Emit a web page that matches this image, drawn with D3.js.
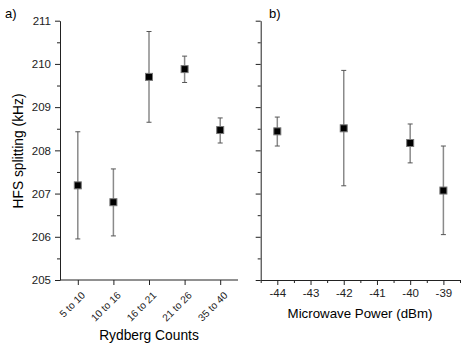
<!DOCTYPE html>
<html>
<head>
<meta charset="utf-8">
<script src="https://cdn.jsdelivr.net/npm/d3@7"></script>
<style>
  body { margin: 0; background: #fff; }
  svg { font-family: "Liberation Sans", Arial, sans-serif; }
</style>
</head>
<body>
<svg width="474" height="362"></svg>
<script>
const svg = d3.select("svg");

// panel a) data
const rydbergCats = ["5 to 10", "10 to 16", "16 to 21", "21 to 26", "35 to 40"];
const rydbergVals = [207.19, 206.80, 209.70, 209.88, 208.47];
const rydbergHi = [208.43, 207.57, 210.75, 210.18, 208.75];
const rydbergLo = [205.95, 206.02, 208.65, 209.57, 208.17];

// panel b) data
const powerVals = [-44, -42, -40, -39];
const powerHfs = [208.44, 208.51, 208.17, 207.07];
const powerHi = [208.77, 209.85, 208.61, 208.10];
const powerLo = [208.10, 207.18, 207.71, 206.05];

const yTicks = [205, 206, 207, 208, 209, 210, 211];
const xTicksB = [-44, -43, -42, -41, -40, -39];

const plotTop = 20.7, plotBottom = 280;
const y = d3.scaleLinear().domain([205, 211]).range([plotBottom, plotTop]);

const errColor = "#8a8a8a";
const fmt = d => String(d);  // plain hyphen minus, no decimals

// ---- panel a
const xa = d3.scalePoint().domain(rydbergCats).range([60, 238]).padding(0.5);
const ga = svg.append("g");

const yAxisA = d3.axisLeft(y).tickValues(yTicks).tickSize(5).tickSizeOuter(0).tickPadding(4).tickFormat(fmt);
ga.append("g").attr("transform", "translate(60,0)").call(yAxisA)
  .call(g => g.selectAll("text").attr("font-size", 11.5).attr("fill", "#222"));
ga.append("g").attr("transform", "translate(60,0)")
  .call(d3.axisLeft(y).tickValues(d3.range(205.5, 211, 1)).tickSize(3).tickFormat(""))
  .call(g => g.select(".domain").remove());

const xAxisA = d3.axisBottom(xa).tickSize(5).tickSizeOuter(0);
ga.append("g").attr("transform", `translate(0,${plotBottom})`).call(xAxisA)
  .call(g => g.select(".domain").attr("d", "M60,0H238"))
  .call(g => g.selectAll("text")
    .attr("font-size", 10.2).attr("fill", "#222")
    .attr("text-anchor", "end")
    .attr("y", 0).attr("dy", 0)
    .attr("transform", "translate(7.5,16) rotate(-45)"));

const ptsA = rydbergCats.map((c, i) => ({x: xa(c), v: rydbergVals[i], hi: rydbergHi[i], lo: rydbergLo[i]}));

function drawPoints(g, pts) {
  const e = g.selectAll("g.err").data(pts).join("g").attr("class", "err");
  e.append("line").attr("x1", d => d.x).attr("x2", d => d.x)
    .attr("y1", d => y(d.hi)).attr("y2", d => y(d.lo))
    .attr("stroke", errColor).attr("stroke-width", 1.5);
  e.append("line").attr("x1", d => d.x - 2.5).attr("x2", d => d.x + 2.5)
    .attr("y1", d => y(d.hi)).attr("y2", d => y(d.hi))
    .attr("stroke", "#555").attr("stroke-width", 1);
  e.append("line").attr("x1", d => d.x - 2.5).attr("x2", d => d.x + 2.5)
    .attr("y1", d => y(d.lo)).attr("y2", d => y(d.lo))
    .attr("stroke", "#555").attr("stroke-width", 1);
  g.selectAll("rect.pt").data(pts).join("rect").attr("class", "pt")
    .attr("x", d => d.x - 3.5).attr("y", d => y(d.v) - 3.5)
    .attr("width", 7).attr("height", 7)
    .attr("fill", "#000").attr("stroke", "#777").attr("stroke-width", 1);
}
drawPoints(ga, ptsA);

ga.append("text").attr("x", 5).attr("y", 18).attr("font-size", 13).text("a)");
ga.append("text").attr("transform", "translate(23,151) rotate(-90)")
  .attr("text-anchor", "middle").attr("font-size", 13.8).text("HFS splitting (kHz)");
ga.append("text").attr("x", 149).attr("y", 340).attr("text-anchor", "middle")
  .attr("font-size", 13.8).text("Rydberg Counts");

// ---- panel b
const xb = d3.scaleLinear().domain([-44.5, -38.5]).range([260.7, 460]);
const gb = svg.append("g");

gb.append("g").attr("transform", "translate(260.7,0)")
  .call(d3.axisLeft(y).tickValues(yTicks).tickSize(5).tickSizeOuter(0).tickFormat(""));
gb.append("g").attr("transform", "translate(260.7,0)")
  .call(d3.axisLeft(y).tickValues(d3.range(205.5, 211, 1)).tickSize(3).tickFormat(""))
  .call(g => g.select(".domain").remove());

gb.append("g").attr("transform", `translate(0,${plotBottom})`)
  .call(d3.axisBottom(xb).tickValues(xTicksB).tickSize(5).tickSizeOuter(0).tickPadding(4).tickFormat(fmt))
  .call(g => g.selectAll("text").attr("font-size", 11.5).attr("fill", "#222"));
gb.append("g").attr("transform", `translate(0,${plotBottom})`)
  .call(d3.axisBottom(xb).tickValues(d3.range(-44.5, -38, 1)).tickSize(3).tickFormat(""))
  .call(g => g.select(".domain").remove());

const ptsB = powerVals.map((p, i) => ({x: xb(p), v: powerHfs[i], hi: powerHi[i], lo: powerLo[i]}));
drawPoints(gb, ptsB);

gb.append("text").attr("x", 269).attr("y", 18).attr("font-size", 13).text("b)");
gb.append("text").attr("x", 360).attr("y", 318).attr("text-anchor", "middle")
  .attr("font-size", 13.3).text("Microwave Power (dBm)");

svg.selectAll(".domain, .tick line").attr("stroke", "#222");
</script>
</body>
</html>
